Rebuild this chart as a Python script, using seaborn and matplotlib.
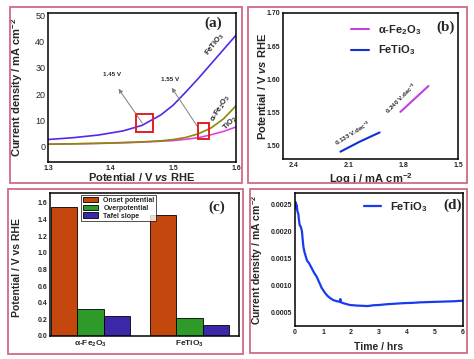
import matplotlib
matplotlib.use("Agg")
import matplotlib.pyplot as plt
from matplotlib.patches import Rectangle
from matplotlib.ticker import FormatStrFormatter
import numpy as np
import pandas as pd
import seaborn as sns

# ---- panel (a): LSV curves
volt_a = [1.30, 1.34, 1.38, 1.42, 1.45, 1.48, 1.50, 1.52, 1.54, 1.56, 1.58, 1.60]
fetio3_a = [2.6, 3.3, 4.3, 5.9, 8.0, 12.0, 15.8, 20.8, 26.0, 31.5, 37.0, 42.5]
fe2o3_a = [0.8, 0.95, 1.15, 1.45, 1.7, 2.1, 2.6, 3.4, 4.8, 7.0, 10.5, 15.5]
tio2_a = [0.8, 0.95, 1.1, 1.35, 1.6, 1.95, 2.2, 2.7, 3.3, 4.4, 5.7, 7.4]

# ---- panel (b): Tafel lines
logj_fe2o3 = [1.816, 1.662]
pot_fe2o3 = [1.551, 1.590]
logj_fetio3 = [2.145, 2.04, 1.93]
pot_fetio3 = [1.491, 1.506, 1.520]

# ---- panel (c): bar summary
materials = [r"α-Fe$_2$O$_3$", r"FeTiO$_3$"]
params = ["Onset potential", "Overpotential", "Tafel slope"]
onset = [1.55, 1.45]
overpot = [0.32, 0.22]
tafel = [0.24, 0.135]

# ---- panel (d): chronoamperometry
time_d = [0.00, 0.02, 0.04, 0.06, 0.08, 0.10, 0.12, 0.14, 0.17, 0.20, 0.23, 0.25,
          0.27, 0.30, 0.34, 0.38, 0.42, 0.46, 0.50, 0.55, 0.60, 0.67, 0.73, 0.77,
          0.83, 0.90, 0.95, 1.00, 1.08, 1.16, 1.25, 1.37, 1.50, 1.60, 1.62, 1.64,
          1.75, 1.96, 2.20, 2.40, 2.60, 2.80, 3.00, 3.30, 3.60, 3.90, 4.20, 4.50,
          4.80, 5.10, 5.40, 5.70, 6.00]
curr_d = [2.52, 2.55, 2.44, 2.50, 2.40, 2.36, 2.33, 2.22, 2.12, 2.10, 2.05, 2.00,
          1.88, 1.72, 1.62, 1.55, 1.48, 1.44, 1.42, 1.37, 1.32, 1.25, 1.20, 1.17,
          1.10, 1.02, 0.96, 0.92, 0.86, 0.81, 0.77, 0.73, 0.71, 0.70, 0.75, 0.69,
          0.67, 0.64, 0.63, 0.625, 0.62, 0.635, 0.64, 0.655, 0.665, 0.675, 0.68, 0.69,
          0.695, 0.70, 0.705, 0.71, 0.72]
curr_d = [c * 1e-3 for c in curr_d]

sns.set_style("white")
plt.rcParams["font.family"] = ["Liberation Sans", "DejaVu Sans"]
plt.rcParams["font.weight"] = "bold"
plt.rcParams["axes.labelweight"] = "bold"
plt.rcParams["mathtext.fontset"] = "custom"
plt.rcParams["mathtext.rm"] = "Liberation Sans:bold"
plt.rcParams["mathtext.it"] = "Liberation Sans:bold:italic"
plt.rcParams["mathtext.bf"] = "Liberation Sans:bold"

W, H = 474, 359
fig = plt.figure(figsize=(4.74, 3.59), dpi=100)


def px_axes(x0, y0, x1, y1):
    return fig.add_axes([x0 / W, (H - y1) / H, (x1 - x0) / W, (y1 - y0) / H])


def px_border(x0, y0, x1, y1):
    fig.patches.append(Rectangle((x0 / W, (H - y1) / H), (x1 - x0) / W, (y1 - y0) / H,
                                 transform=fig.transFigure, fill=False,
                                 edgecolor="#d06a86", linewidth=1.3))


for b in [(10, 7, 242, 183), (248, 7, 467, 183), (8, 189, 243, 354), (250, 189, 467, 353)]:
    px_border(*b)


def style(ax, fs=5):
    for s in ax.spines.values():
        s.set_linewidth(1.1)
        s.set_color("black")
    ax.tick_params(direction="in", length=2, width=0.8, labelsize=fs, pad=2)
    for lab in ax.get_xticklabels() + ax.get_yticklabels():
        lab.set_fontweight("bold")


def panel_tag(ax, txt, x, y):
    ax.text(x, y, txt, transform=ax.transAxes, fontsize=11, fontweight="bold",
            family="Liberation Serif", ha="center", va="center")


# ---------------- (a)
ax = px_axes(48, 13, 236, 162)
df_a = pd.DataFrame({"V": volt_a * 3,
                     "j": tio2_a + fe2o3_a + fetio3_a,
                     "s": ["TiO2"] * 12 + ["Fe2O3"] * 12 + ["FeTiO3"] * 12})
sns.lineplot(data=df_a, x="V", y="j", hue="s", ax=ax, legend=False,
             palette={"TiO2": "#e040e0", "Fe2O3": "#8c8a00", "FeTiO3": "#5528e8"},
             linewidth=1.2)
ax.set_xlim(1.3, 1.6)
ax.set_ylim(-6, 51)
ax.set_xticks([1.3, 1.4, 1.5, 1.6])
ax.set_yticks([0, 10, 20, 30, 40, 50])
ax.xaxis.set_major_formatter(FormatStrFormatter("%.1f"))
style(ax)
for lab in ax.get_yticklabels():
    lab.set_fontsize(6.5)
    lab.set_fontweight("normal")
ax.add_patch(Rectangle((1.440, 5.3), 0.0276, 6.9, fill=False, edgecolor="#e02020", lw=1.4, zorder=5))
ax.add_patch(Rectangle((1.539, 2.7), 0.018, 6.4, fill=False, edgecolor="#e02020", lw=1.4, zorder=5))
ax.annotate("", xy=(1.410, 22.9), xytext=(1.453, 8.0),
            arrowprops=dict(arrowstyle="-|>", color="#808080", lw=0.7, mutation_scale=6))
ax.annotate("", xy=(1.495, 23.3), xytext=(1.540, 7.0),
            arrowprops=dict(arrowstyle="-|>", color="#808080", lw=0.7, mutation_scale=6))
ax.text(1.402, 27.5, "1.45 V", fontsize=4.5, fontweight="bold", ha="center", va="center")
ax.text(1.495, 25.6, "1.55 V", fontsize=4.5, fontweight="bold", ha="center", va="center")
ax.text(1.566, 39, r"FeTiO$_3$", fontsize=5.5, rotation=52, ha="center", va="center")
ax.text(1.576, 14.5, r"α-Fe$_2$O$_3$", fontsize=5.5, rotation=58, ha="center", va="center")
ax.text(1.591, 8.8, r"TiO$_2$", fontsize=5.5, rotation=45, ha="center", va="center")
ax.set_xlabel(r"Potential / V $\it{vs}$ RHE", fontsize=8)
ax.set_ylabel(r"Current density / mA cm$^{-2}$", fontsize=8)
ax.xaxis.set_label_coords(0.5, -0.062)
ax.yaxis.set_label_coords(-0.12, 0.5)
panel_tag(ax, "(a)", 0.88, 0.93)

# ---------------- (b)
ax = px_axes(283, 13, 458, 159)
df_b = pd.DataFrame({"x": logj_fe2o3 + logj_fetio3,
                     "y": pot_fe2o3 + pot_fetio3,
                     "s": [r"α-Fe$_2$O$_3$"] * 2 + [r"FeTiO$_3$"] * 3})
sns.lineplot(data=df_b, x="x", y="y", hue="s", ax=ax,
             palette=["#c040e0", "#1030d0"], linewidth=1.5)
ax.set_xlim(2.46, 1.5)
ax.set_ylim(1.48, 1.70)
ax.set_xticks([2.4, 2.1, 1.8, 1.5])
ax.set_yticks([1.50, 1.55, 1.60, 1.65, 1.70])
ax.xaxis.set_major_formatter(FormatStrFormatter("%.1f"))
ax.yaxis.set_major_formatter(FormatStrFormatter("%.2f"))
style(ax, 5)
leg = ax.legend(loc="upper center", bbox_to_anchor=(0.59, 1.0), frameon=False,
                fontsize=8, handlelength=1.6, labelspacing=0.6)
for t in leg.get_texts():
    t.set_fontweight("bold")
ax.text(2.076, 1.5195, r"0.133 V.dec$^{-1}$", fontsize=4.5, rotation=32, ha="center", va="center")
ax.text(1.81, 1.572, r"0.240 V.dec$^{-1}$", fontsize=4.5, rotation=45, ha="center", va="center")
ax.set_xlabel(r"Log j / mA cm$^{-2}$", fontsize=8)
ax.set_ylabel(r"Potential / V $\it{vs}$ RHE", fontsize=8)
ax.xaxis.set_label_coords(0.5, -0.085)
ax.yaxis.set_label_coords(-0.086, 0.5)
panel_tag(ax, "(b)", 0.93, 0.9)

# ---------------- (c)
ax = px_axes(50, 193, 239, 336)
df_c = pd.DataFrame({"mat": materials * 3,
                     "val": onset + overpot + tafel,
                     "p": [params[0]] * 2 + [params[1]] * 2 + [params[2]] * 2})
sns.barplot(data=df_c, x="mat", y="val", hue="p", ax=ax, width=0.8, saturation=1,
            palette=["#c4480e", "#2e9a2a", "#3a28a8"], edgecolor="black", linewidth=0.6)
ax.set_xlim(-0.41, 1.5)
ax.set_ylim(0, 1.72)
ax.set_yticks(np.arange(0, 1.61, 0.2))
ax.yaxis.set_major_formatter(FormatStrFormatter("%.1f"))
style(ax, 5)
for lab in ax.get_xticklabels():
    lab.set_fontsize(6)
ax.tick_params(axis="x", length=0)
leg = ax.legend(loc="upper left", bbox_to_anchor=(0.165, 0.985), fontsize=5,
                frameon=True, fancybox=False, edgecolor="black", borderpad=0.2,
                labelspacing=0.1, handlelength=2.2, handleheight=0.9, borderaxespad=0)
leg.get_frame().set_linewidth(0.6)
for t in leg.get_texts():
    t.set_fontweight("bold")
ax.set_xlabel("")
ax.set_ylabel("Potential / V vs RHE", fontsize=7.5)
ax.yaxis.set_label_coords(-0.148, 0.48)
panel_tag(ax, "(c)", 0.88, 0.9)

# ---------------- (d)
ax = px_axes(295, 193, 463, 326)
df_d = pd.DataFrame({"t": time_d, "j": curr_d})
sns.lineplot(data=df_d, x="t", y="j", ax=ax, color="#1a3af0", linewidth=1.6, label=r"FeTiO$_3$")
ax.set_xlim(0, 6)
ax.set_ylim(0.00025, 0.00272)
ax.set_xticks(range(7))
ax.set_yticks([0.0005, 0.0010, 0.0015, 0.0020, 0.0025])
ax.yaxis.set_major_formatter(FormatStrFormatter("%.4f"))
style(ax, 5)
leg = ax.legend(loc="upper center", bbox_to_anchor=(0.6, 1.02), frameon=False,
                fontsize=8, handlelength=1.6)
for t in leg.get_texts():
    t.set_fontweight("bold")
ax.set_xlabel("Time / hrs", fontsize=7.5)
ax.set_ylabel(r"Current density / mA cm$^{-2}$", fontsize=7.5)
ax.xaxis.set_label_coords(0.5, -0.12)
ax.yaxis.set_label_coords(-0.18, 0.5)
panel_tag(ax, "(d)", 0.94, 0.91)

fig.savefig("out.png", dpi=100)
